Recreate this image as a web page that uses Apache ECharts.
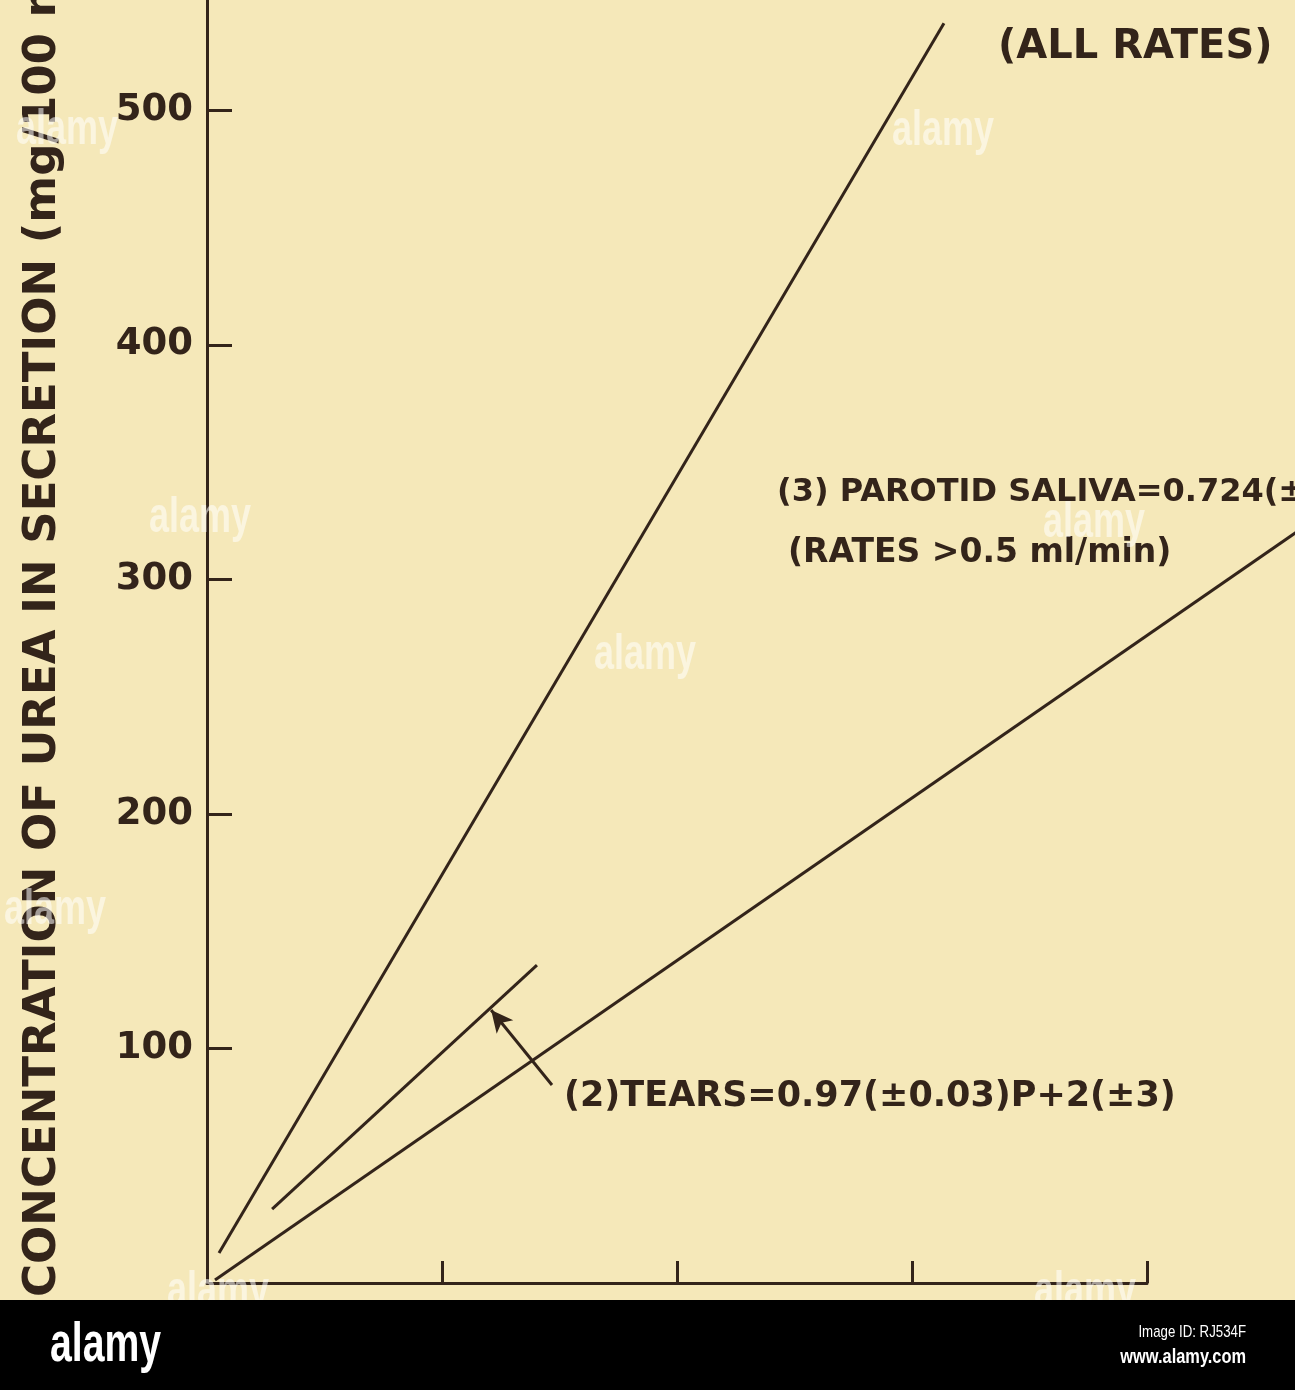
<!DOCTYPE html>
<html>
<head>
<meta charset="utf-8">
<style>
html,body{margin:0;padding:0;background:#f5e8b9;}
#chart{width:1295px;height:1390px;}
</style>
<script src="https://cdn.jsdelivr.net/npm/echarts@6/dist/echarts.min.js"></script>
</head>
<body>
<div id="chart"></div>
<script>
// ---- data (x: plasma urea, y: urea in secretion, mg/100 ml) ----
const xTicks = [100, 200, 300, 400];
const yTicks = [100, 200, 300, 400, 500];
const line1AllRates = [[5.1, 12.8], [313.6, 537.1]];
const line2Tears = [[27.7, 31.5], [140.4, 135.5]];
const line3Parotid = [[3.4, 1.3], [470, 324.6]];
const tearsArrowFrom = [146.8, 84.4];
const tearsArrowTo = [120.9, 116.4];
const yAxisTitle = 'CONCENTRATION OF UREA IN SECRETION (mg/100 ml)';
const label1 = '(ALL RATES)';
const label3a = '(3) PAROTID SALIVA=0.724(±0';
const label3b = '(RATES >0.5 ml/min)';
const label2 = '(2)TEARS=0.97(±0.03)P+2(±3)';

const INK = '#33241a';
const BG = '#f5e8b9';
const FONT = '"DejaVu Sans", sans-serif';
const WFONT = '"Liberation Sans", Arial, sans-serif';

// visible axes span 0..400; plotting area continues to the page edge
const X_AXIS_MAX = 400;
const GRID_LEFT = 207, GRID_RIGHT = 148;
const X_PLOT_MAX = X_AXIS_MAX * (1295 - GRID_LEFT) / (1295 - GRID_RIGHT - GRID_LEFT);
const Y_MAX = 547;

const chart = echarts.init(document.getElementById('chart'));

const lineSeries = (name, data, extra) => Object.assign({
  name, type: 'line', data, symbol: 'none', clip: false, silent: true,
  xAxisIndex: 1, yAxisIndex: 1,
  lineStyle: { color: INK, width: 3 }, animation: false
}, extra || {});

const watermarks = [[67,130],[943,131],[200,518],[1094,523],[645,655],[55,910],[218,1292],[1085,1292]];

chart.setOption({
  backgroundColor: BG,
  animation: false,
  grid: [
    { left: GRID_LEFT, right: GRID_RIGHT, top: 0, bottom: 107 },
    { left: GRID_LEFT, right: 0, top: 0, bottom: 107 }
  ],
  xAxis: [{
    gridIndex: 0, type: 'value', min: 0, max: X_AXIS_MAX,
    axisLine: { show: true, lineStyle: { color: INK, width: 3 } },
    axisTick: { show: true, inside: true, length: 22, customValues: xTicks, lineStyle: { color: INK, width: 3 } },
    axisLabel: { show: false },
    splitLine: { show: false }
  }, {
    gridIndex: 1, type: 'value', min: 0, max: X_PLOT_MAX, show: false
  }],
  yAxis: [{
    gridIndex: 0, type: 'value', min: 0, max: Y_MAX,
    axisLine: { show: true, lineStyle: { color: INK, width: 3 } },
    axisTick: { show: true, inside: true, length: 25, customValues: yTicks, lineStyle: { color: INK, width: 3 } },
    axisLabel: { show: true, customValues: yTicks, margin: 14, color: INK, fontFamily: FONT, fontWeight: 'bold', fontSize: 37 },
    splitLine: { show: false }
  }, {
    gridIndex: 1, type: 'value', min: 0, max: Y_MAX, show: false
  }],
  series: [
    lineSeries('(1) ALL RATES', line1AllRates),
    lineSeries('(2) TEARS', line2Tears, {
      markLine: {
        silent: true, animation: false,
        symbol: ['none', 'arrow'], symbolSize: [16, 22],
        label: { show: false },
        lineStyle: { color: INK, width: 3, type: 'solid' },
        data: [[{ coord: tearsArrowFrom }, { coord: tearsArrowTo }]]
      }
    }),
    lineSeries('(3) PAROTID SALIVA', line3Parotid)
  ],
  graphic: [
    { type: 'text', x: 43, y: 1297, rotation: Math.PI / 2, silent: true,
      style: { text: yAxisTitle, fill: INK, font: 'bold 45px ' + FONT, textAlign: 'left', textVerticalAlign: 'middle' } },
    { type: 'text', x: 998, y: 48, silent: true,
      style: { text: label1, fill: INK, font: 'bold 40px ' + FONT, textAlign: 'left', textVerticalAlign: 'middle' } },
    { type: 'text', x: 777, y: 493, silent: true,
      style: { text: label3a, fill: INK, font: 'bold 32px ' + FONT, textAlign: 'left', textVerticalAlign: 'middle' } },
    { type: 'text', x: 788, y: 553, silent: true,
      style: { text: label3b, fill: INK, font: 'bold 33px ' + FONT, textAlign: 'left', textVerticalAlign: 'middle' } },
    { type: 'text', x: 564, y: 1097, silent: true,
      style: { text: label2, fill: INK, font: 'bold 35px ' + FONT, textAlign: 'left', textVerticalAlign: 'middle' } },
    ...watermarks.map(p => ({ type: 'text', x: p[0], y: p[1], scaleX: 0.72, silent: true, z: 50,
      style: { text: 'alamy', fill: 'rgba(255,255,255,0.55)', font: 'bold 50px ' + WFONT, textAlign: 'center', textVerticalAlign: 'middle' } })),
    { type: 'rect', shape: { x: 0, y: 1300, width: 1295, height: 90 }, z: 100, silent: true, style: { fill: '#000' } },
    { type: 'text', x: 50, y: 1346, scaleX: 0.7, z: 101, silent: true,
      style: { text: 'alamy', fill: '#fff', font: 'bold 56px ' + WFONT, textAlign: 'left', textVerticalAlign: 'middle' } },
    { type: 'text', x: 1246, y: 1332, scaleX: 0.78, z: 101, silent: true,
      style: { text: 'Image ID: RJ534F', fill: '#fff', font: '17px ' + WFONT, textAlign: 'right', textVerticalAlign: 'middle' } },
    { type: 'text', x: 1246, y: 1357, scaleX: 0.78, z: 101, silent: true,
      style: { text: 'www.alamy.com', fill: '#fff', font: 'bold 21px ' + WFONT, textAlign: 'right', textVerticalAlign: 'middle' } }
  ]
});
</script>
</body>
</html>
